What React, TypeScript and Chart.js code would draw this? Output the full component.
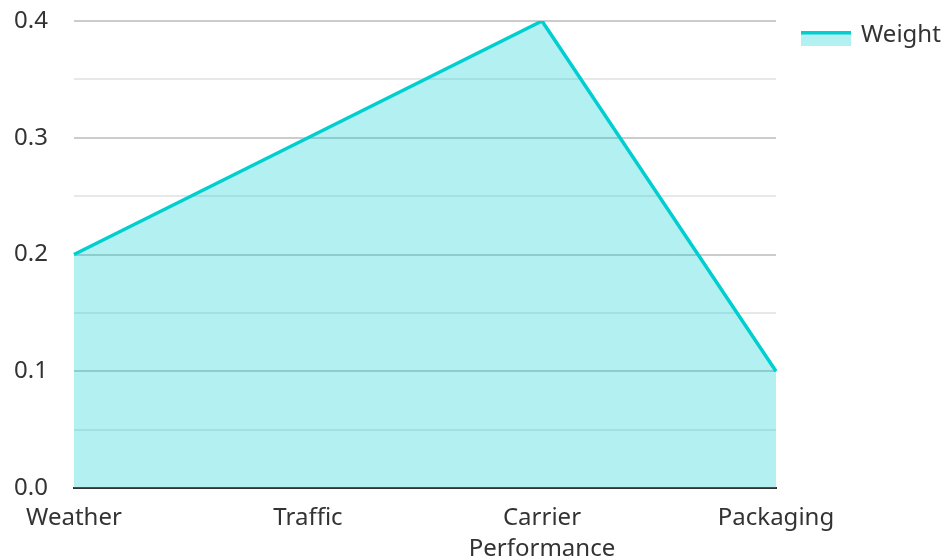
import React, { useEffect, useRef } from "react";
import { Chart, registerables } from "chart.js";

Chart.register(...registerables);

const categories: (string | string[])[] = ["Weather", "Traffic", ["Carrier", "Performance"], "Packaging"];
const weightValues = [0.2, 0.3, 0.4, 0.1];
const seriesName = "Weight";

const LINE_COLOR = "#00CED1";
const FILL_COLOR = "rgba(0, 206, 209, 0.3)";
const TEXT_COLOR = "#333333";
const FONT_FAMILY = "'Noto Sans'";

const sideLegend = {
  id: "sideLegend",
  afterDraw(chart: any) {
    const ctx = chart.ctx;
    const area = chart.chartArea;
    const boxX = area.right + 25;
    const boxY = 31;
    const boxW = 50;
    const boxH = 15;
    ctx.save();
    ctx.fillStyle = FILL_COLOR;
    ctx.fillRect(boxX, boxY, boxW, boxH);
    ctx.fillStyle = LINE_COLOR;
    ctx.fillRect(boxX, boxY, boxW, 3.5);
    ctx.fillStyle = TEXT_COLOR;
    ctx.font = `24px ${FONT_FAMILY}`;
    ctx.textAlign = "left";
    ctx.textBaseline = "alphabetic";
    ctx.fillText(chart.data.datasets[0].label, boxX + boxW + 10, 41.5);
    ctx.restore();
  },
};

export default function App() {
  const ref = useRef<HTMLCanvasElement | null>(null);
  useEffect(() => {
    if (!ref.current) return;
    const chart = new Chart(ref.current, {
      type: "line",
      data: {
        labels: categories,
        datasets: [
          {
            label: seriesName,
            data: weightValues,
            borderColor: LINE_COLOR,
            backgroundColor: FILL_COLOR,
            borderWidth: 3.5,
            fill: "origin",
            pointRadius: 0,
            pointHoverRadius: 0,
            tension: 0,
          },
        ],
      },
      options: {
        animation: false,
        responsive: false,
        maintainAspectRatio: false,
        layout: { padding: { left: 14, top: 0, bottom: 0, right: 170 } },
        plugins: {
          tooltip: { enabled: false },
          legend: { display: false },
        },
        scales: {
          x: {
            offset: false,
            grid: { display: false, drawTicks: false },
            border: { display: true, color: "#333333", width: 2 },
            afterFit: (scale: any) => {
              scale.height = 72;
            },
            ticks: {
              color: TEXT_COLOR,
              padding: 15,
              maxRotation: 0,
              autoSkip: false,
              font: { family: FONT_FAMILY, size: 24, lineHeight: 1.28 },
            },
          },
          y: {
            min: 0,
            max: 0.4,
            afterFit: (scale: any) => {
              scale.width = 60;
              scale.paddingTop = 21;
              scale.paddingBottom = 0;
            },
            grid: {
              drawTicks: false,
              lineWidth: 2,
              color: (ctx: any) => {
                const v = ctx.tick ? ctx.tick.value : 0;
                const r = Math.round(v * 100);
                return r % 10 === 0 ? "#cccccc" : "#e8e8e8";
              },
            },
            border: { display: false },
            ticks: {
              stepSize: 0.05,
              autoSkip: false,
              padding: 26,
              color: TEXT_COLOR,
              font: { family: FONT_FAMILY, size: 24, lineHeight: 1.2 },
              callback: (value: any) => {
                const r = Math.round(Number(value) * 100);
                return r % 10 === 0 ? (r / 100).toFixed(1) : "";
              },
            },
          },
        },
      },
      plugins: [sideLegend],
    });
    return () => chart.destroy();
  }, []);
  return (
    <div style={{ position: "absolute", left: 0, top: 0, width: 946, height: 560 }}>
      <canvas ref={ref} width={946} height={560} style={{ width: 946, height: 560, display: "block" }} />
    </div>
  );
}
